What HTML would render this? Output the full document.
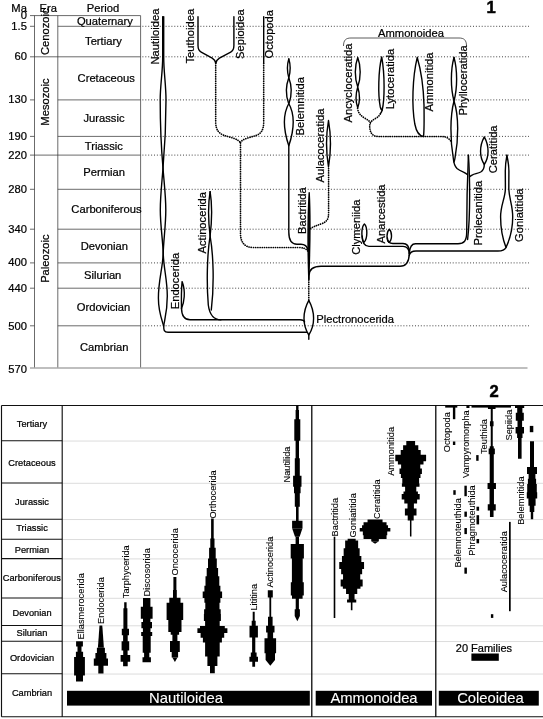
<!DOCTYPE html>
<html><head><meta charset="utf-8"><title>Cephalopod phylogeny</title>
<style>html,body{margin:0;padding:0;background:#fff;}svg{display:block;}text{font-family:"Liberation Sans",Arial,sans-serif;fill:#000;stroke:#000;stroke-width:0.22;}.t11{font-size:11.2px;}.t9{font-size:9.25px;stroke-width:0.08;}.b{font-weight:bold;font-size:16.6px;stroke-width:0.5;}.ln{fill:none;stroke:#000;stroke-width:1.4;stroke-linecap:round;stroke-linejoin:round;}.dt{fill:none;stroke:#000;stroke-width:1.7;stroke-dasharray:0.1 2.1;stroke-linecap:round;}.gd{fill:none;stroke:#444;stroke-width:1;stroke-dasharray:1 1.9;}.tb{fill:none;stroke:#3a3a3a;stroke-width:0.75;}.tb2{fill:none;stroke:#111;stroke-width:1.15;}.tb3{fill:none;stroke:#000;stroke-width:1.25;}.gl{fill:none;stroke:#dcdcdc;stroke-width:1;}</style></head><body>
<svg width="543" height="719" viewBox="0 0 543 719">
<rect width="543" height="719" fill="#fff"/>
<g class="tb">
<path d="M34.5 15.6V368M57.8 15.6V368M140.6 15.6V368"/>
<path d="M30 15.6H140.6"/>
<path d="M30 26.3H34.5M57.8 26.3H140.6"/>
<path d="M30 56.8H140.6"/>
<path d="M30 155.1H140.6"/>
<path d="M30 99.9H34.5M57.8 99.9H140.6"/>
<path d="M30 136.4H34.5M57.8 136.4H140.6"/>
<path d="M30 189.3H34.5M57.8 189.3H140.6"/>
<path d="M30 229.2H34.5M57.8 229.2H140.6"/>
<path d="M30 262.9H34.5M57.8 262.9H140.6"/>
<path d="M30 288.2H34.5M57.8 288.2H140.6"/>
<path d="M30 325.8H34.5M57.8 325.8H140.6"/>
</g>
<path d="M30 368H527.5" fill="none" stroke="#aaa" stroke-width="1.6"/>
<g class="gd">
<path d="M142.4 26.3H529"/>
<path d="M142.4 56.8H529"/>
<path d="M142.4 99.9H529"/>
<path d="M142.4 136.4H529"/>
<path d="M142.4 155.1H529"/>
<path d="M142.4 189.3H529"/>
<path d="M142.4 229.2H529"/>
<path d="M142.4 262.9H529"/>
<path d="M142.4 288.2H529"/>
<path d="M142.4 325.8H529"/>
</g>
<g class="t11" text-anchor="end">
<text x="26.9" y="19.1">0</text>
<text x="26.9" y="29.8">1.5</text>
<text x="26.9" y="60.2">60</text>
<text x="26.9" y="103.4">130</text>
<text x="26.9" y="139.8">190</text>
<text x="26.9" y="158.5">220</text>
<text x="26.9" y="192.8">280</text>
<text x="26.9" y="232.6">340</text>
<text x="26.9" y="266.3">400</text>
<text x="26.9" y="292.0">440</text>
<text x="26.9" y="329.8">500</text>
<text x="26.9" y="372.6">570</text>
</g>
<g class="t11" text-anchor="middle">
<text x="19.1" y="11.5">Ma</text><text x="48.3" y="11.5">Era</text><text x="103" y="11.5">Period</text>
<text x="104.9" y="24.8">Quaternary</text>
<text x="103.4" y="45.4">Tertiary</text>
<text x="106.2" y="82.2">Cretaceous</text>
<text x="104" y="122.1">Jurassic</text>
<text x="103.8" y="149.7">Triassic</text>
<text x="104.1" y="176.1">Permian</text>
<text x="106.5" y="213.2">Carboniferous</text>
<text x="104.3" y="249.9">Devonian</text>
<text x="102.7" y="279.4">Silurian</text>
<text x="103.5" y="310.9">Ordovician</text>
<text x="104.2" y="350.8">Cambrian</text>
</g>
<text class="t11" transform="translate(49.1 31.8) rotate(-90)" text-anchor="middle">Cenozoic</text>
<text class="t11" transform="translate(49.2 102) rotate(-90)" text-anchor="middle">Mesozoic</text>
<text class="t11" transform="translate(49.3 258.6) rotate(-90)" text-anchor="middle">Paleozoic</text>
<text class="t11" transform="translate(159 64.5) rotate(-90)" text-anchor="start">Nautiloidea</text>
<text class="t11" transform="translate(194 63.5) rotate(-90)" text-anchor="start">Teuthoidea</text>
<text class="t11" transform="translate(243.5 59) rotate(-90)" text-anchor="start">Sepioidea</text>
<text class="t11" transform="translate(273 58.5) rotate(-90)" text-anchor="start">Octopoda</text>
<text class="t11" transform="translate(303.5 135.5) rotate(-90)" text-anchor="start">Belemnitida</text>
<text class="t11" transform="translate(323.5 182.5) rotate(-90)" text-anchor="start">Aulacoceratida</text>
<text class="t11" transform="translate(351.8 122.5) rotate(-90)" text-anchor="start">Ancycloceratida</text>
<text class="t11" transform="translate(394 109.3) rotate(-90)" text-anchor="start">Lytoceratida</text>
<text class="t11" transform="translate(433 111.5) rotate(-90)" text-anchor="start">Ammonitida</text>
<text class="t11" transform="translate(466.5 115.5) rotate(-90)" text-anchor="start">Phylloceratida</text>
<text class="t11" transform="translate(497.4 173.3) rotate(-90)" text-anchor="start">Ceratitida</text>
<text class="t11" transform="translate(481.5 245.5) rotate(-90)" text-anchor="start">Prolecanitida</text>
<text class="t11" transform="translate(522.9 241.9) rotate(-90)" text-anchor="start">Goniatitida</text>
<text class="t11" transform="translate(179 309.3) rotate(-90)" text-anchor="start">Endocerida</text>
<text class="t11" transform="translate(205.5 253.5) rotate(-90)" text-anchor="start">Actinocerida</text>
<text class="t11" transform="translate(306.3 233.9) rotate(-90)" text-anchor="start">Bactritida</text>
<text class="t11" transform="translate(359.7 254.8) rotate(-90)" text-anchor="start">Clymeniida</text>
<text class="t11" transform="translate(385 243.5) rotate(-90)" text-anchor="start">Anarcestida</text>
<text class="t11" x="316.3" y="322.6">Plectronocerida</text>
<text class="t11" x="411" y="37.3" text-anchor="middle">Ammonoidea</text>
<text class="b" x="491.1" y="12.9" text-anchor="middle">1</text>
<text class="b" x="494.2" y="397.1" text-anchor="middle">2</text>
<path d="M343.5 46C343.5 40 346 38 351 38H459C464 38 466.5 40 466.5 46" fill="none" stroke="#333" stroke-width="0.8"/>
<g class="ln">
<path d="M162.7 16.6V57C162.7 72 160.2 85 160.2 100C160.2 125 161.6 152 163 168C163.8 180 165.8 195 165.8 210C165.8 225 163.6 240 163.2 253C162.8 268 158.4 280 158.4 298C158.4 312 162 320 163.7 326"/>
<path d="M163.7 16.6V57C163.7 72 166 85 166 100C166 125 164.4 152 163 168C162.2 180 160.3 195 160.3 210C160.3 225 162.8 240 163.2 253C163.6 268 167.3 280 167.3 296C167.3 312 164.5 320 163.7 326C163.7 330 164 332.3 168 332.3H306.5"/>
<path d="M198 16.8V45.5C198 49.2 199.2 51 201.2 52.1L212.2 58.2C214.2 59.4 215.4 61 215.8 63.3C216.2 61 217.4 59.4 219.4 58.2L230.7 52.1C232.7 51 233.9 49.2 233.9 45.5V16.8"/>
<path d="M263.7 16.8V63"/>
<path d="M288.8 59C286.9 65 287.2 72 288.8 77.8C291.9 86 291.9 95 289.1 103C282.8 114 282.8 128 288.8 145.8V232C288.8 239 291 244.2 297 244.2H301C305 244.2 307 246 308.2 250"/>
<path d="M288.8 59C290.7 65 290.4 72 288.8 77.8C285.7 86 285.7 95 288.5 103C294.8 114 294.8 128 288.8 145.8"/>
<path d="M328.5 120.5C326 135 326 152 328.5 167C331 152 331 135 328.5 120.5Z"/>
<path d="M357.75 57.5C354.5 66 354.5 78 357.75 87C360.2 95 360.2 101 357.75 107.8C355.3 101 355.3 95 357.75 87C361 78 361 66 357.75 57.5Z"/>
<path d="M381.7 57C378.4 70 377.8 95 380.3 107C380.8 109 381.5 110 382.2 110C384.6 100 385 75 381.7 57Z"/>
<path d="M382.2 110C381.8 111.5 381.2 112.5 380.4 113.6"/>
<path d="M417.25 57.3C412.3 78 411.7 106 414.8 124C416.3 131.5 419.5 136 423.5 136.5C424.3 130 424.2 118 424 105C423.5 88 421.5 72 417.25 57.5Z"/>
<path d="M454 57.5C450.5 70 450.5 88 454 101C459 116 458.5 140 455 158C454.8 159.5 454.4 161 454 162"/>
<path d="M454 57.5C457.5 70 457.5 88 454 101C450 116 450 140 453.4 159C453.8 163.5 455 166.5 457 168.5C459 170.3 461.5 171.3 463.5 172.1C465 172.8 466.3 173.5 467.3 174.5"/>
<path d="M484.3 136.9C479.3 146 479.3 157 484.3 164.5C489.3 157 489.3 146 484.3 136.9Z"/>
<path d="M484.3 164.4C484.3 168 483 170.5 480.7 172C478.5 173.3 474.5 173.8 472.5 174.8C471 175.5 470.3 176 469.6 176.8"/>
<path d="M468.4 155.3C467.3 180 466.7 205 466.7 232C466.7 241 464 243.7 458 243.7H415.5C411.8 243.7 409.7 247.5 409.3 253"/>
<path d="M468.4 155.3C469.8 175 470.6 215 467.6 239.5"/>
<path d="M506.9 155.3C506 160 505.3 165 505.3 171C505.3 176 505.4 183 505.4 189C505 199 500.6 205 500.6 217C500.6 230 503.5 241 506 247.5"/>
<path d="M506.9 155.3C507.9 160 508.9 165 508.9 171C508.9 176 508.8 183 508.8 189C509.2 199 512.7 205 512.7 217C512.7 230 509.5 240 506 247.5C504.5 250.5 502 251 498 251H416C412 251 409.8 252.3 409.3 255.5"/>
<path d="M182.1 281.6C181.3 290 181.3 300 181.5 308.8C184 303 186 291.5 182.1 281.6Z"/>
<path d="M181.5 308C181.6 316 184.5 319.8 190 319.8H300C303 319.8 304.3 321 304.6 322"/>
<path d="M210.1 191.6C208.2 203 208.2 220 210.1 236C213.5 255 214.3 285 211.3 310"/>
<path d="M210.1 191.6C212 203 212 220 210.1 236C206.9 255 206.6 285 208.3 305C209.5 314 213.5 319.8 221 319.8"/>
<path d="M309.2 192.8C307.9 215 307.8 250 308.8 279C309.9 250 310.4 215 309.2 192.8Z" fill="#000"/>
<path d="M308.9 279.5V276C309 270 313 266.3 321 266.3H400C406.5 266.3 409.2 262 409.3 253"/>
<path d="M308.8 300.4C302.4 312 302.4 325 308.8 335C315.2 325 315.2 312 308.8 300.4Z"/>
<path d="M308.8 335V339.3"/>
<path d="M364.4 223.9C361.1 227 361.1 239 364 242.3C367.7 239 367.7 227 364.4 223.9Z"/>
<path d="M362.2 236C362.3 243 364 246.4 369 246.4H403C407 246.4 409.1 249.5 409.3 254"/>
<path d="M389.3 229.2C386.3 232 386.3 240 389 242.3C392.3 240 392.3 232 389.3 229.2Z"/>
<path d="M387.4 238C387.5 242 389 243.5 393 243.5H403C407 243.5 409 246.5 409.2 251"/>
</g>
<g class="dt">
<path d="M215.7 63.5V122C215.7 130 219 133.5 224 135.3C230 137.5 238 138.5 240.3 142.7"/>
<path d="M263.7 63.5V122C263.7 130 261 133.5 256.5 135.3C250.5 137.5 242.5 138.5 240.3 142.7"/>
<path d="M240.5 143V233.5C240.5 242 244.5 247.5 253 247.5H298C303 247.5 306.5 248.5 308 251.5"/>
<path d="M328.6 168.5V213C328.6 219 327 221.5 322 223.6C317 225.5 313 226.5 310 229"/>
<path d="M308.8 280V300"/>
<path d="M357.6 108.3C358 113 361 116 364.9 118.2C367.5 119.8 369.5 121 370.4 122.6C371.5 121 373.5 119.5 376 118.2C378 117 379.5 115.5 380.4 113.8"/>
<path d="M370.4 122.6C369.6 124.5 369.6 126.5 369.8 128.1C370.2 132.5 372.5 136.5 378 136.5H442C446 136.5 449.5 138.5 451.3 142"/>
</g>
<g class="gl">
<path d="M62.8 441.05H543"/>
<path d="M62.8 483.3H543"/>
<path d="M62.8 519.55H543"/>
<path d="M62.8 539.55H543"/>
<path d="M62.8 558.9H543"/>
<path d="M62.8 598.3H543"/>
<path d="M62.8 625.8H543"/>
<path d="M62.8 641.55H543"/>
<path d="M62.8 674.05H543"/>
</g>
<g class="tb2">
<path d="M1.5 405.5H543M1.5 716.75H543M1.5 405.5V716.75M62.2 405.5V716.75"/>
<path d="M1.5 440.75H62.2"/>
<path d="M1.5 483H62.2"/>
<path d="M1.5 519.25H62.2"/>
<path d="M1.5 539.25H62.2"/>
<path d="M1.5 558.6H62.2"/>
<path d="M1.5 598H62.2"/>
<path d="M1.5 625.5H62.2"/>
<path d="M1.5 641.25H62.2"/>
<path d="M1.5 673.75H62.2"/>
</g>
<path class="tb3" d="M311.8 405.5V716.75M435.8 405.5V716.75"/>
<g class="t9" text-anchor="middle">
<text x="32" y="427.0">Tertiary</text>
<text x="32" y="465.6">Cretaceous</text>
<text x="32" y="505.0">Jurassic</text>
<text x="32" y="530.8">Triassic</text>
<text x="32" y="552.8">Permian</text>
<text x="31.8" y="580.8">Carboniferous</text>
<text x="32" y="615.5">Devonian</text>
<text x="32" y="636.1">Silurian</text>
<text x="32" y="660.9">Ordovician</text>
<text x="32" y="696.0">Cambrian</text>
</g>
<rect x="67" y="690.8" width="242.8" height="14.8" fill="#000"/>
<rect x="315.7" y="690.8" width="116.3" height="14.8" fill="#000"/>
<rect x="438.8" y="690.8" width="100" height="14.8" fill="#000"/>
<g text-anchor="middle" style="font-size:14.8px">
<text x="186" y="703.1" style="fill:#fff;stroke:#fff;stroke-width:0.1">Nautiloidea</text>
<text x="374" y="703.1" style="fill:#fff;stroke:#fff;stroke-width:0.1">Ammonoidea</text>
<text x="490.5" y="703.1" style="fill:#fff;stroke:#fff;stroke-width:0.1">Coleoidea</text>
</g>
<path d="M76.10 641.20H82.90V646.50H76.10ZM77.50 646.50H81.50V651.80H77.50ZM75.90 651.80H83.10V657.10H75.90ZM74.10 657.10H84.90V675.60H74.10ZM76.00 675.60H83.00V681.60H76.00Z" fill="#000"/>
<path d="M99.50 625.60L102.30 625.60L103.90 647.80L97.90 647.80Z" fill="#000"/>
<path d="M96.90 647.80H104.90V653.00H96.90ZM95.40 653.00H106.40V658.40H95.40ZM93.80 658.40H108.00V665.70H93.80ZM98.30 665.70H103.50V673.60H98.30Z" fill="#000"/>
<path d="M124.20 602.30H126.60V608.20H124.20ZM123.40 608.20H127.40V628.70H123.40ZM121.80 628.70H129.00V635.30H121.80ZM123.10 635.30H127.70V641.20H123.10ZM121.60 641.20H129.20V650.50H121.60ZM123.20 650.50H127.60V655.10H123.20ZM120.60 655.10H130.20V661.70H120.60ZM123.10 661.70H127.70V666.30H123.10Z" fill="#000"/>
<path d="M143.00 598.00H150.40V606.70H143.00ZM140.80 606.70H152.60V618.70H140.80ZM143.00 618.70H150.40V622.00H143.00ZM141.40 622.00H152.00V628.30H141.40ZM142.90 628.30H150.50V632.00H142.90ZM141.20 632.00H152.20V636.00H141.20ZM142.70 636.00H150.70V652.70H142.70ZM144.10 652.70H149.30V657.30H144.10ZM142.50 657.30H150.90V662.30H142.50Z" fill="#000"/>
<path d="M173.40 577.00H176.40V590.00H173.40ZM173.00 590.00H176.80V597.80H173.00ZM169.30 597.80H180.50V602.70H169.30ZM166.60 602.70H183.20V620.00H166.60ZM168.30 620.00H181.50V631.90H168.30ZM170.70 631.90H179.10V634.70H170.70ZM172.40 634.70H177.40V641.00H172.40ZM170.00 641.00H179.80V652.00H170.00ZM171.70 652.00H178.10V657.60H171.70Z" fill="#000"/>
<path d="M172.30 657.60L177.50 657.60L174.90 662.00Z" fill="#000"/>
<path d="M211.10 518.60H213.70V538.40H211.10ZM210.30 538.40H214.50V547.80H210.30ZM209.10 547.80H215.70V558.50H209.10ZM208.00 558.50H216.80V568.00H208.00ZM206.70 568.00H218.10V576.20H206.70ZM205.50 576.20H219.30V585.70H205.50ZM204.40 585.70H220.40V591.60H204.40ZM202.70 591.60H222.10V598.00H202.70ZM204.40 598.00H220.40V602.70H204.40ZM205.30 602.70H219.50V609.30H205.30ZM204.10 609.30H220.70V614.00H204.10ZM203.90 614.00H220.90V621.00H203.90ZM205.10 621.00H219.70V625.90H205.10ZM200.00 625.90H224.80V628.20H200.00ZM197.40 628.20H227.40V633.00H197.40ZM200.60 633.00H224.20V637.70H200.60ZM202.90 637.70H221.90V642.40H202.90ZM205.10 642.40H219.70V656.60H205.10ZM207.40 656.60H217.40V666.00H207.40ZM210.00 666.00H214.80V673.20H210.00Z" fill="#000"/>
<path d="M252.70 611.70H254.70V620.80H252.70ZM251.70 620.80H255.70V625.80H251.70ZM249.50 625.80H257.90V637.50H249.50ZM252.10 637.50H255.30V652.50H252.10ZM250.80 652.50H256.60V656.70H250.80ZM249.40 656.70H258.00V661.70H249.40ZM252.30 661.70H255.10V666.70H252.30Z" fill="#000"/>
<path d="M267.80 590.30H272.80V597.50H267.80ZM269.40 597.50H271.20V616.70H269.40ZM268.00 616.70H272.60V625.80H268.00ZM266.10 625.80H274.50V632.50H266.10ZM267.50 632.50H273.10V638.30H267.50ZM264.50 638.30H276.10V653.30H264.50ZM265.60 653.30H275.00V660.00H265.60Z" fill="#000"/>
<path d="M265.60 660.00L275.00 660.00L270.30 665.80Z" fill="#000"/>
<path d="M296.10 405.50H298.50V410.00H296.10ZM295.60 410.00H299.00V419.20H295.60ZM294.30 419.20H300.30V440.80H294.30ZM295.60 440.80H299.00V458.30H295.60ZM294.80 458.30H299.80V475.80H294.80ZM293.10 475.80H301.50V486.70H293.10ZM294.00 486.70H300.60V493.30H294.00ZM294.80 493.30H299.80V506.70H294.80ZM296.00 506.70H298.60V520.80H296.00ZM292.10 520.80H302.50V528.30H292.10ZM295.60 536.70H299.00V544.00H295.60ZM290.70 544.00H303.90V558.40H290.70ZM291.90 558.40H302.70V582.20H291.90ZM290.80 582.20H303.80V595.40H290.80ZM292.00 595.40H302.60V598.70H292.00ZM295.70 598.70H298.90V609.30H295.70ZM294.70 609.30H299.90V616.00H294.70Z" fill="#000"/>
<path d="M292.10 528.30L302.50 528.30L299.60 536.70L295.00 536.70Z" fill="#000"/>
<path d="M294.70 616.00L299.90 616.00L297.30 621.20Z" fill="#000"/>
<rect x="333.70" y="536.70" width="1.60" height="81.30" fill="#000"/>
<path d="M347.65 538.80H355.65V540.60H347.65ZM345.15 540.60H358.15V548.20H345.15ZM343.65 548.20H359.65V555.90H343.65ZM341.95 555.90H361.35V562.00H341.95ZM339.25 562.00H364.05V568.90H339.25ZM341.15 568.90H362.15V574.20H341.15ZM343.05 574.20H360.25V579.60H343.05ZM340.65 579.60H362.65V586.50H340.65ZM342.85 586.50H360.45V588.70H342.85ZM346.05 588.70H357.25V594.10H346.05ZM348.75 594.10H354.55V599.40H348.75ZM347.05 599.40H356.25V602.50H347.05ZM350.85 602.50H352.45V610.20H350.85Z" fill="#000"/>
<path d="M367.55 519.50H382.55V522.20H367.55ZM363.55 522.20H386.55V525.30H363.55ZM362.05 525.30H388.05V528.00H362.05ZM359.75 528.00H390.35V531.40H359.75ZM362.85 531.40H387.25V535.20H362.85ZM363.55 535.20H386.55V539.00H363.55ZM371.25 539.00H378.85V541.30H371.25Z" fill="#000"/>
<path d="M371.20 541.30L378.90 541.30L375.05 543.70Z" fill="#000"/>
<path d="M406.30 440.90H415.10V445.20H406.30ZM403.10 445.20H418.30V450.00H403.10ZM400.70 450.00H420.70V454.80H400.70ZM395.30 454.80H426.10V461.20H395.30ZM397.90 461.20H423.50V464.40H397.90ZM401.10 464.40H420.30V468.40H401.10ZM399.50 468.40H421.90V474.00H399.50ZM400.90 474.00H420.50V478.00H400.90ZM402.30 478.00H419.10V483.60H402.30ZM401.90 483.60H419.50V486.80H401.90ZM405.10 486.80H416.30V491.60H405.10ZM403.50 491.60H417.90V494.00H403.50ZM401.70 494.00H419.70V499.60H401.70ZM404.30 499.60H417.10V503.60H404.30ZM407.50 503.60H413.90V508.40H407.50ZM404.90 508.40H416.50V515.60H404.90ZM407.70 515.60H413.70V520.40H407.70ZM409.95 520.40H411.45V536.40H409.95Z" fill="#000"/>
<rect x="445.20" y="405.50" width="12.10" height="2.10" fill="#000"/>
<rect x="452.90" y="405.50" width="2.40" height="13.70" fill="#000"/>
<rect x="452.90" y="441.50" width="2.40" height="3.50" fill="#000"/>
<rect x="466.40" y="405.50" width="3.10" height="2.50" fill="#000"/>
<rect x="476.20" y="455.10" width="2.40" height="5.70" fill="#000"/>
<rect x="471.50" y="405.50" width="39.50" height="2.10" fill="#000"/>
<path d="M487.95 405.70H495.55V409.10H487.95ZM490.75 409.10H492.75V421.30H490.75ZM489.95 421.30H493.55V426.30H489.95ZM490.75 426.30H492.75V446.20H490.75ZM489.75 446.20H493.75V448.40H489.75ZM488.65 448.40H494.85V454.20H488.65ZM489.70 454.20H493.80V483.00H489.70ZM487.55 483.00H495.95V489.10H487.55ZM489.55 489.10H493.95V504.30H489.55ZM487.75 504.30H495.75V510.40H487.75ZM489.95 510.40H493.55V517.10H489.95Z" fill="#000"/>
<rect x="515.00" y="405.50" width="9.20" height="2.50" fill="#000"/>
<path d="M517.20 407.00H522.40V412.70H517.20ZM515.80 412.70H523.80V420.80H515.80ZM517.50 420.80H522.10V427.10H517.50ZM515.60 427.10H524.00V433.50H515.60ZM517.10 433.50H522.50V438.00H517.10ZM518.00 438.00H521.60V458.80H518.00Z" fill="#000"/>
<rect x="529.80" y="425.90" width="3.50" height="6.30" fill="#000"/>
<path d="M530.00 441.20H534.00V466.90H530.00ZM527.00 466.90H537.00V474.10H527.00ZM528.60 474.10H535.40V478.70H528.60ZM527.90 478.70H536.10V484.00H527.90ZM527.20 484.00H536.80V492.20H527.20ZM526.80 492.20H537.20V498.60H526.80ZM528.40 498.60H535.60V505.80H528.40ZM529.70 505.80H534.30V512.10H529.70ZM530.80 512.10H533.20V519.30H530.80Z" fill="#000"/>
<rect x="453.30" y="490.20" width="2.40" height="4.60" fill="#000"/>
<rect x="464.40" y="485.70" width="2.40" height="10.50" fill="#000"/>
<rect x="464.40" y="511.60" width="2.50" height="5.20" fill="#000"/>
<rect x="464.40" y="528.00" width="2.50" height="6.10" fill="#000"/>
<rect x="464.40" y="567.60" width="2.50" height="6.10" fill="#000"/>
<rect x="476.50" y="506.70" width="2.60" height="4.00" fill="#000"/>
<rect x="476.50" y="515.20" width="2.60" height="9.20" fill="#000"/>
<rect x="476.50" y="539.00" width="2.60" height="4.30" fill="#000"/>
<rect x="509.00" y="521.90" width="1.70" height="89.30" fill="#000"/>
<rect x="490.90" y="614.20" width="2.40" height="3.70" fill="#000"/>
<rect x="471.40" y="653.50" width="27.40" height="7.30" fill="#000"/>
<text class="t11" x="455.8" y="651.7" style="font-size:11px">20 Families</text>
<text class="t9" transform="translate(83.6 639.5) rotate(-90)">Ellasmerocerida</text>
<text class="t9" transform="translate(104 624) rotate(-90)">Endocerida</text>
<text class="t9" transform="translate(129 598.2) rotate(-90)">Tarphycerida</text>
<text class="t9" transform="translate(149.5 596.5) rotate(-90)">Discosorida</text>
<text class="t9" transform="translate(177.8 575.5) rotate(-90)">Oncocerida</text>
<text class="t9" transform="translate(215.9 518.6) rotate(-90)">Orthocerida</text>
<text class="t9" transform="translate(257.4 610.6) rotate(-90)">Lititina</text>
<text class="t9" transform="translate(272.8 587.6) rotate(-90)">Actinocerida</text>
<text class="t9" transform="translate(289.8 482.5) rotate(-90)">Nautilida</text>
<text class="t9" transform="translate(337.7 536.4) rotate(-90)">Bactritida</text>
<text class="t9" transform="translate(355.6 537.4) rotate(-90)">Goniatitida</text>
<text class="t9" transform="translate(379.5 519) rotate(-90)">Ceratitida</text>
<text class="t9" transform="translate(394.3 475.8) rotate(-90)">Ammonitida</text>
<text class="t9" transform="translate(449.6 452.3) rotate(-90)">Octopoda</text>
<text class="t9" transform="translate(468.7 478) rotate(-90)">Vampyromorpha</text>
<text class="t9" transform="translate(487 454) rotate(-90)">Teuthida</text>
<text class="t9" transform="translate(512.4 440.5) rotate(-90)">Sepiida</text>
<text class="t9" transform="translate(524 524.8) rotate(-90)">Belemnitida</text>
<text class="t9" transform="translate(461.2 567.6) rotate(-90)">Belemnoteuthida</text>
<text class="t9" transform="translate(475 555.7) rotate(-90)">Phragmoteuthida</text>
<text class="t9" transform="translate(506.9 592.3) rotate(-90)">Aulacoceratida</text>
</svg></body></html>
